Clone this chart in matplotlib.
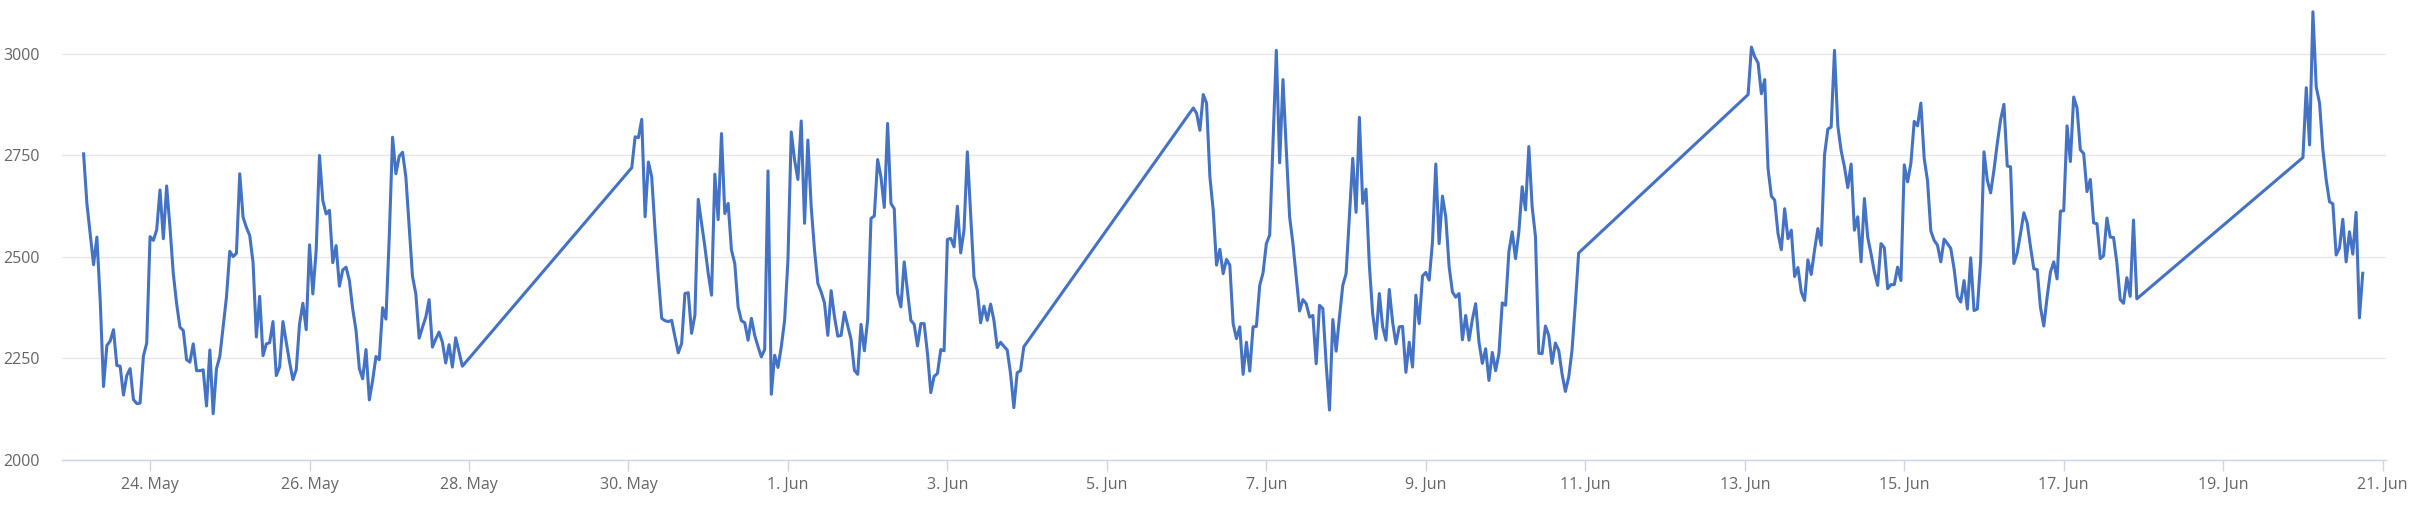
import numpy as np
import pandas as pd
import matplotlib
matplotlib.use("Agg")
import matplotlib.pyplot as plt
import matplotlib.dates as mdates

# hourly readings, five blocks with gaps between them
seg1_start = "2023-05-23 04:00"
seg1 = [2754, 2631, 2557, 2481, 2549, 2393, 2181, 2282, 2293, 2321,
        2233, 2231, 2160, 2208, 2225, 2149, 2139, 2140, 2256, 2288,
        2550, 2541, 2567, 2665, 2545, 2675, 2573, 2459, 2385, 2327,
        2319, 2247, 2241, 2286, 2220, 2220, 2222, 2133, 2271, 2114,
        2225, 2255, 2327, 2401, 2514, 2501, 2509, 2705, 2598, 2573,
        2553, 2487, 2303, 2403, 2257, 2286, 2289, 2341, 2208, 2229,
        2341, 2290, 2241, 2198, 2222, 2335, 2386, 2321, 2530, 2409,
        2516, 2750, 2639, 2606, 2615, 2486, 2528, 2428, 2468, 2475,
        2442, 2372, 2319, 2225, 2200, 2272, 2148, 2196, 2255, 2247,
        2375, 2347, 2549, 2795, 2705, 2748, 2758, 2697, 2575, 2452,
        2409, 2300, 2327, 2352, 2395, 2278, 2298, 2315, 2290, 2239,
        2284, 2229, 2301, 2266, 2231]

seg2_start = "2023-05-30 01:00"
seg2 = [2720, 2796, 2794, 2839, 2599, 2734, 2697, 2566, 2451, 2349,
        2343, 2341, 2344, 2303, 2264, 2287, 2410, 2412, 2312, 2357,
        2642, 2583, 2525, 2460, 2406, 2704, 2592, 2804, 2607, 2632,
        2517, 2484, 2377, 2343, 2338, 2295, 2349, 2307, 2279, 2254,
        2272, 2712, 2162, 2258, 2228, 2279, 2344, 2492, 2808, 2739,
        2691, 2835, 2583, 2788, 2624, 2517, 2435, 2414, 2387, 2307,
        2417, 2353, 2305, 2307, 2364, 2330, 2297, 2221, 2211, 2334,
        2269, 2346, 2595, 2601, 2740, 2697, 2622, 2829, 2632, 2619,
        2410, 2377, 2488, 2414, 2344, 2334, 2281, 2336, 2336, 2262,
        2166, 2206, 2213, 2272, 2269, 2543, 2546, 2525, 2625, 2510,
        2566, 2759, 2607, 2451, 2418, 2338, 2379, 2344, 2384, 2344,
        2277, 2290, 2280, 2271, 2213, 2129, 2215, 2220, 2279]

seg3_start = "2023-06-06 02:00"
seg3 = [2867, 2854, 2812, 2900, 2879, 2698, 2616, 2480, 2519, 2459,
        2494, 2480, 2336, 2299, 2328, 2211, 2290, 2219, 2328, 2329,
        2430, 2461, 2533, 2554, 2780, 3009, 2732, 2937, 2764, 2599,
        2533, 2451, 2367, 2395, 2385, 2352, 2356, 2237, 2381, 2373,
        2237, 2123, 2346, 2268, 2352, 2430, 2459, 2599, 2743, 2610,
        2844, 2632, 2667, 2480, 2360, 2299, 2410, 2328, 2295, 2420,
        2340, 2286, 2328, 2329, 2216, 2290, 2229, 2406, 2336, 2453,
        2462, 2443, 2537, 2729, 2533, 2650, 2599, 2477, 2414, 2401,
        2410, 2296, 2356, 2295, 2346, 2385, 2290, 2238, 2274, 2196,
        2265, 2220, 2262, 2387, 2381, 2513, 2562, 2496, 2562, 2673,
        2616, 2772, 2624, 2550, 2263, 2262, 2330, 2307, 2238, 2288,
        2270, 2212, 2169, 2204, 2270, 2385, 2510]

seg4_start = "2023-06-13 01:00"
seg4 = [2900, 3017, 2993, 2978, 2902, 2937, 2718, 2650, 2640, 2558,
        2518, 2619, 2545, 2566, 2452, 2474, 2414, 2393, 2493, 2457,
        2517, 2570, 2529, 2751, 2815, 2820, 3009, 2823, 2762, 2722,
        2671, 2729, 2566, 2599, 2488, 2644, 2549, 2508, 2463, 2430,
        2533, 2523, 2422, 2432, 2432, 2475, 2442, 2727, 2685, 2731,
        2834, 2823, 2879, 2743, 2688, 2564, 2541, 2529, 2488, 2544,
        2533, 2521, 2471, 2403, 2389, 2442, 2372, 2498, 2368, 2372,
        2492, 2759, 2689, 2658, 2714, 2780, 2838, 2876, 2724, 2722,
        2484, 2510, 2558, 2609, 2584, 2525, 2471, 2469, 2376, 2330,
        2401, 2463, 2488, 2446, 2613, 2614, 2823, 2735, 2894, 2867,
        2764, 2755, 2661, 2691, 2584, 2582, 2496, 2503, 2596, 2549,
        2548, 2485, 2395, 2386, 2449, 2403, 2591, 2397]

seg5_start = "2023-06-20 00:00"
seg5 = [2745, 2917, 2776, 3104, 2919, 2879, 2764, 2690, 2636, 2631,
        2505, 2522, 2593, 2488, 2562, 2507, 2610, 2350, 2460]

y_ticks = [2000, 2250, 2500, 2750, 3000]

parts = []
for start, vals in [(seg1_start, seg1), (seg2_start, seg2), (seg3_start, seg3),
                    (seg4_start, seg4), (seg5_start, seg5)]:
    idx = pd.date_range(start, periods=len(vals), freq="h")
    parts.append(pd.Series(vals, index=idx))
s = pd.concat(parts)

plt.rcParams['font.family'] = ['Open Sans', 'DejaVu Sans']

fig = plt.figure(figsize=(24.19, 5.08), dpi=100)
ax = fig.add_axes([62 / 2419, 48 / 508, (2386 - 62) / 2419, 460 / 508])

ax.plot(s.index, s.values, color="#4472c4", lw=2.2, solid_joinstyle="round")

ax.set_ylim(2000, 3133)
ax.set_xlim(pd.Timestamp("2023-05-22 21:30"), pd.Timestamp("2023-06-21 01:00"))

ax.set_yticks(y_ticks)
ax.set_yticklabels([str(v) for v in y_ticks])
ax.yaxis.grid(True, color="#e6e6e6", lw=1)
ax.set_axisbelow(True)
ax.tick_params(axis="y", length=0, pad=16, labelsize=11.5, labelcolor="#666666")

xt = pd.date_range("2023-05-24", "2023-06-21", freq="2D")
ax.set_xticks(xt)
ax.set_xticklabels([f"{d.day}. {d.strftime('%b')}" for d in xt])
ax.tick_params(axis="x", length=8, width=1, color="#ccd6eb", pad=4,
               labelsize=11.5, labelcolor="#666666")

for sp in ["top", "right", "left"]:
    ax.spines[sp].set_visible(False)
ax.spines["bottom"].set_color("#ccd6eb")
ax.spines["bottom"].set_linewidth(1)

fig.savefig("out.png", dpi=100)
